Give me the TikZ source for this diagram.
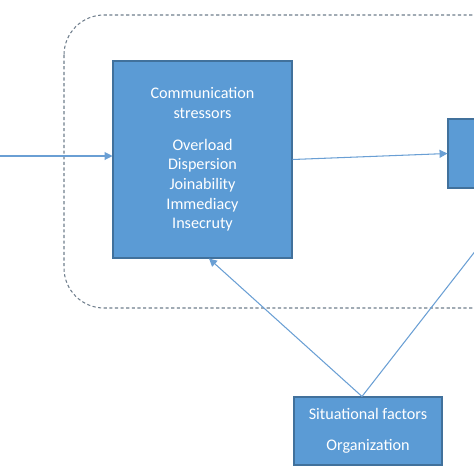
\documentclass[tikz,border=0pt]{standalone}
\usepackage{fontspec}
\setmainfont{Carlito}
\usetikzlibrary{arrows.meta}

\definecolor{boxblue}{HTML}{5B9BD5}
\definecolor{boxedge}{HTML}{41719C}
\definecolor{lineblue}{HTML}{6A9FD4}
\definecolor{dashgray}{HTML}{6F7E8C}

\begin{document}
\begin{tikzpicture}[
    x=0.02cm,y=-0.02cm,
    block/.style={rectangle,draw=boxedge,fill=boxblue,line width=0.6pt,
      text=white,align=center,inner sep=0pt},
    link/.style={draw=lineblue,line width=0.6pt},
    ->/.style={link,-{Triangle[length=4.5pt,width=4.5pt]}},
    font=\fontsize{9.2}{11.2}\selectfont
    ]

    \useasboundingbox (0,0) rectangle (474,474);
    \clip (0,0) rectangle (474,474);

    % dashed frame
    \draw[dashgray,line width=0.6pt,dash pattern=on 1.8pt off 1.4pt,rounded corners=0.8cm]
      (64,15) rectangle (600,308);

    \node (stressors) [block,minimum width=3.58cm,minimum height=3.94cm] at (202.5,159.5)
      {Communication\\stressors\\[7pt]Overload\\Dispersion\\Joinability\\Immediacy\\Insecruty};
    \node (outcome) [block,minimum width=3.04cm,minimum height=1.38cm] at (524,153.5) {};
    \node (situational) [block,minimum width=2.96cm,minimum height=1.36cm] at (368,431)
      {Situational factors\\[6.4pt]Organization};
    \coordinate (in) at (0,156);

    \draw[->] (in) -- (stressors.west |- in);
    \draw[->] (stressors.east) to (outcome.west);
    \draw[->] ([xshift=-0.12cm]situational.north) to ([xshift=0.13cm]stressors.south);
    \draw[link] ([xshift=-0.12cm]situational.north) to (outcome.south);

  \end{tikzpicture}
\end{document}
